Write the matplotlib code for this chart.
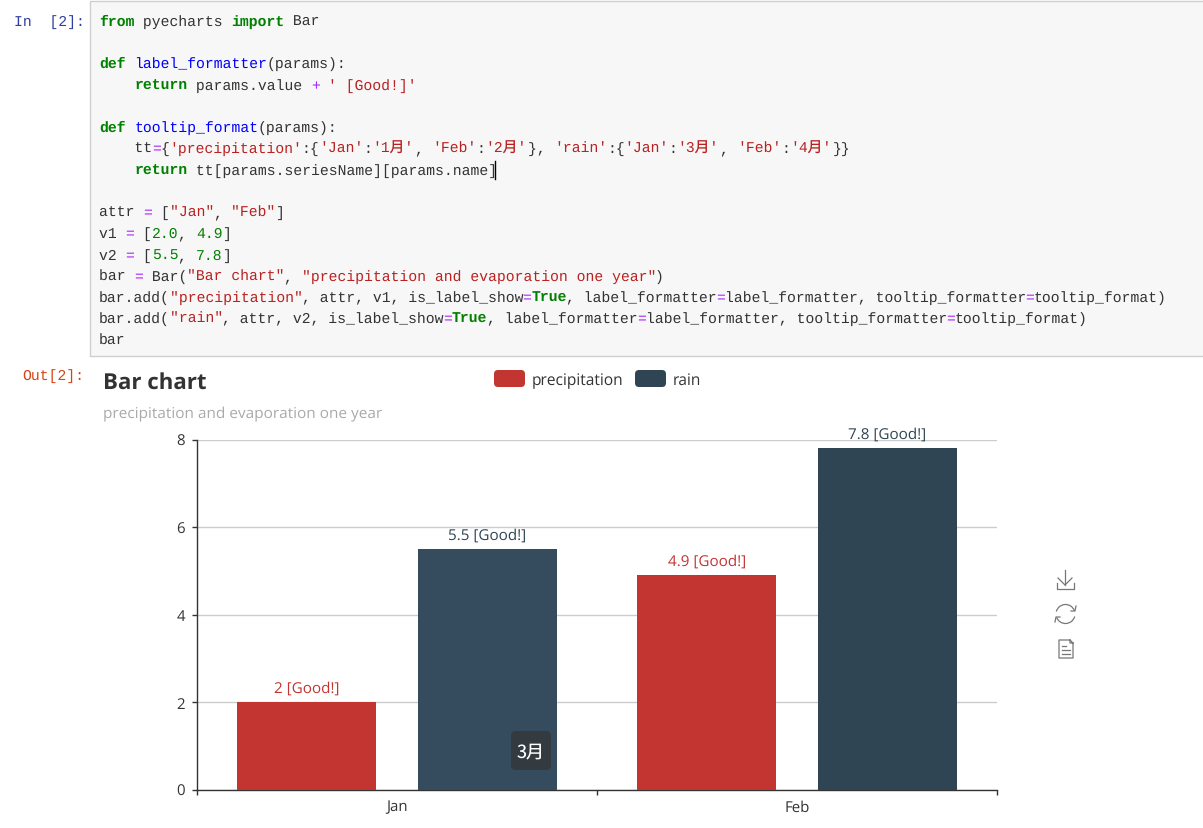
import matplotlib
matplotlib.use("Agg")
import matplotlib.pyplot as plt
from matplotlib.patches import FancyBboxPatch, Rectangle, Arc

W, H = 1203, 829

# chart data
categories = ["Jan", "Feb"]
precipitation = [2, 4.9]
rain = [5.5, 7.8]
y_ticks = [0, 2, 4, 6, 8]
series_names = ["precipitation", "rain"]
chart_title = "Bar chart"
chart_subtitle = "precipitation and evaporation one year"
tooltip_text = "3月"

RED = "#c23531"
NAVY = "#2f4554"
NAVY_HOVER = "#354b5e"

# colours of the notebook syntax highlighting
COL = {"n": "#333333", "k": "#008000", "f": "#0000ff", "s": "#ba2121",
       "o": "#aa22ff", "d": "#008000"}

code_lines = [
    (26, [("from", "k"), (" pyecharts ", "n"), ("import", "k"), (" Bar", "n")]),
    (68, [("def", "k"), (" ", "n"), ("label_formatter", "f"), ("(params):", "n")]),
    (90, [("    ", "n"), ("return", "k"), (" params.value ", "n"), ("+", "o"), (" ", "n"), ("' [Good!]'", "s")]),
    (132, [("def", "k"), (" ", "n"), ("tooltip_format", "f"), ("(params):", "n")]),
    (153, [("    tt", "n"), ("=", "o"), ("{", "n"), ("'precipitation'", "s"), (":{", "n"), ("'Jan'", "s"), (":", "n"),
           ("'1月'", "s"), (", ", "n"), ("'Feb'", "s"), (":", "n"), ("'2月'", "s"), ("}, ", "n"), ("'rain'", "s"),
           (":{", "n"), ("'Jan'", "s"), (":", "n"), ("'3月'", "s"), (", ", "n"), ("'Feb'", "s"), (":", "n"),
           ("'4月'", "s"), ("}}", "n")]),
    (175, [("    ", "n"), ("return", "k"), (" tt[params.seriesName][params.name]", "n")]),
    (217, [("attr ", "n"), ("=", "o"), (" [", "n"), ('"Jan"', "s"), (", ", "n"), ('"Feb"', "s"), ("]", "n")]),
    (238, [("v1 ", "n"), ("=", "o"), (" [", "n"), ("2.0", "d"), (", ", "n"), ("4.9", "d"), ("]", "n")]),
    (260, [("v2 ", "n"), ("=", "o"), (" [", "n"), ("5.5", "d"), (", ", "n"), ("7.8", "d"), ("]", "n")]),
    (281, [("bar ", "n"), ("=", "o"), (" Bar(", "n"), ('"Bar chart"', "s"), (", ", "n"),
           ('"precipitation and evaporation one year"', "s"), (")", "n")]),
    (302, [("bar.add(", "n"), ('"precipitation"', "s"), (", attr, v1, is_label_show", "n"), ("=", "o"), ("True", "k"),
           (", label_formatter", "n"), ("=", "o"), ("label_formatter, tooltip_formatter", "n"), ("=", "o"),
           ("tooltip_format)", "n")]),
    (323, [("bar.add(", "n"), ('"rain"', "s"), (", attr, v2, is_label_show", "n"), ("=", "o"), ("True", "k"),
           (", label_formatter", "n"), ("=", "o"), ("label_formatter, tooltip_formatter", "n"), ("=", "o"),
           ("tooltip_format)", "n")]),
    (345, [("bar", "n")]),
]

plt.rcParams["font.family"] = ["Open Sans", "Noto Sans CJK SC", "DejaVu Sans"]
plt.rcParams["text.hinting"] = "no_hinting"
MONO = ["Liberation Mono", "Noto Sans CJK SC"]
CELL = 8.82


def cells(s):
    return sum(1.8 if ord(c) > 255 else 1 for c in s)


fig = plt.figure(figsize=(W / 100, H / 100), dpi=100)

# chart axes, placed in pixels
ax = fig.add_axes([197 / W, 1 - 790.5 / H, 800 / W, 350 / H])
bw = 0.3475
off = 0.226
for i, cat in enumerate(categories):
    ax.bar(i - off, precipitation[i], bw, color=RED, zorder=3)
    ax.bar(i + off, rain[i], bw, color=NAVY_HOVER if i == 0 else NAVY, zorder=3)
    ax.annotate("%g [Good!]" % precipitation[i], (i - off, precipitation[i]), xytext=(0, 7),
                textcoords="offset pixels", ha="center", va="bottom", color=RED, fontsize=11)
    ax.annotate("%g [Good!]" % rain[i], (i + off, rain[i]), xytext=(0, 7),
                textcoords="offset pixels", ha="center", va="bottom", color=NAVY, fontsize=11)

ax.set_xlim(-0.5, 1.5)
ax.set_ylim(0, 8)
ax.set_yticks(y_ticks)
ax.set_xticks([-0.5, 0.5, 1.5])
ax.set_xticklabels([])
ax.set_xticks(range(len(categories)), categories, minor=True)
ax.tick_params(axis="x", which="minor", length=0, pad=7, labelsize=10.8, labelcolor="#333333")
ax.tick_params(axis="x", which="major", length=3.6, width=1, color="#333333")
ax.tick_params(axis="y", length=3.6, width=1, color="#333333", pad=5, labelsize=10.8, labelcolor="#333333")
ax.grid(axis="y", color="#cccccc", linewidth=1, zorder=0)
ax.set_axisbelow(True)
for side in ["top", "right"]:
    ax.spines[side].set_visible(False)
for side in ["left", "bottom"]:
    ax.spines[side].set_color("#333333")
    ax.spines[side].set_linewidth(1)

# overlay in screen pixels for the notebook parts, y pointing down
ov = fig.add_axes([0, 0, 1, 1], zorder=5)
ov.set_xlim(0, W)
ov.set_ylim(H, 0)
ov.axis("off")
ov.patch.set_alpha(0)

ov.add_patch(Rectangle((90, 2), 1120, 355, facecolor="#f7f7f7", edgecolor="#cfcfcf", linewidth=1))
ov.text(14, 26, "In  [2]:", family=MONO, fontsize=10.6, color="#303f9f", va="baseline")
ov.text(22, 380, "Out[2]:", family=MONO, fontsize=10.6, color="#d84315", va="baseline")

for y, tokens in code_lines:
    col = 0
    for txt, kind in tokens:
        ov.text(99 + col * CELL, y, txt, family=MONO, fontsize=10.6, color=COL[kind], va="baseline",
                fontweight="bold" if kind == "k" else "normal")
        col += cells(txt)
ov.plot([495, 495], [162, 180], color="black", linewidth=1)

# title block and legend
ov.text(103, 389, chart_title, fontsize=16, fontweight="bold", color="#333333", va="baseline")
ov.text(103, 418, chart_subtitle, fontsize=11.1, color="#aaaaaa", va="baseline")

legend_x = [494, 635]
for x, name, c in zip(legend_x, series_names, [RED, NAVY]):
    ov.add_patch(FancyBboxPatch((x, 371), 31, 17, boxstyle="round,pad=0,rounding_size=4",
                                facecolor=c, edgecolor="none"))
    ov.text(x + 38, 385, name, fontsize=11.2, color="#333333", va="baseline")

# toolbox icons
ICON = "#777777"
ov.plot([1065, 1065], [571, 586], color=ICON, lw=0.9)
ov.plot([1058, 1065, 1072], [579, 586, 579], color=ICON, lw=0.9)
ov.plot([1057, 1057, 1074, 1074], [584, 590, 590, 584], color=ICON, lw=0.9)

ov.add_patch(Arc((1065.5, 615), 19, 19, theta1=195, theta2=340, color=ICON, lw=0.9))
ov.add_patch(Arc((1065.5, 615), 19, 19, theta1=15, theta2=160, color=ICON, lw=0.9))
ov.plot([1071, 1075, 1076], [612, 612, 607], color=ICON, lw=0.9)
ov.plot([1055, 1056, 1060], [623, 618, 618], color=ICON, lw=0.9)

ov.plot([1070, 1059, 1059, 1073, 1073, 1070, 1070, 1073], [641, 641, 659, 659, 644, 641, 644, 644], color=ICON, lw=0.9)
for y, x2 in [(647, 1066), (651, 1070), (655, 1070)]:
    ov.plot([1062, x2], [y, y], color=ICON, lw=0.9)

# tooltip over the hovered bar
ov.add_patch(FancyBboxPatch((511, 732), 40, 39, boxstyle="round,pad=0,rounding_size=5",
                            facecolor="#333a40", edgecolor="none"))
ov.text(531, 752, tooltip_text, fontsize=13, color="white", ha="center", va="center",
        family=["Noto Sans CJK SC", "DejaVu Sans"])

fig.savefig("out.png", dpi=100, facecolor="white")
